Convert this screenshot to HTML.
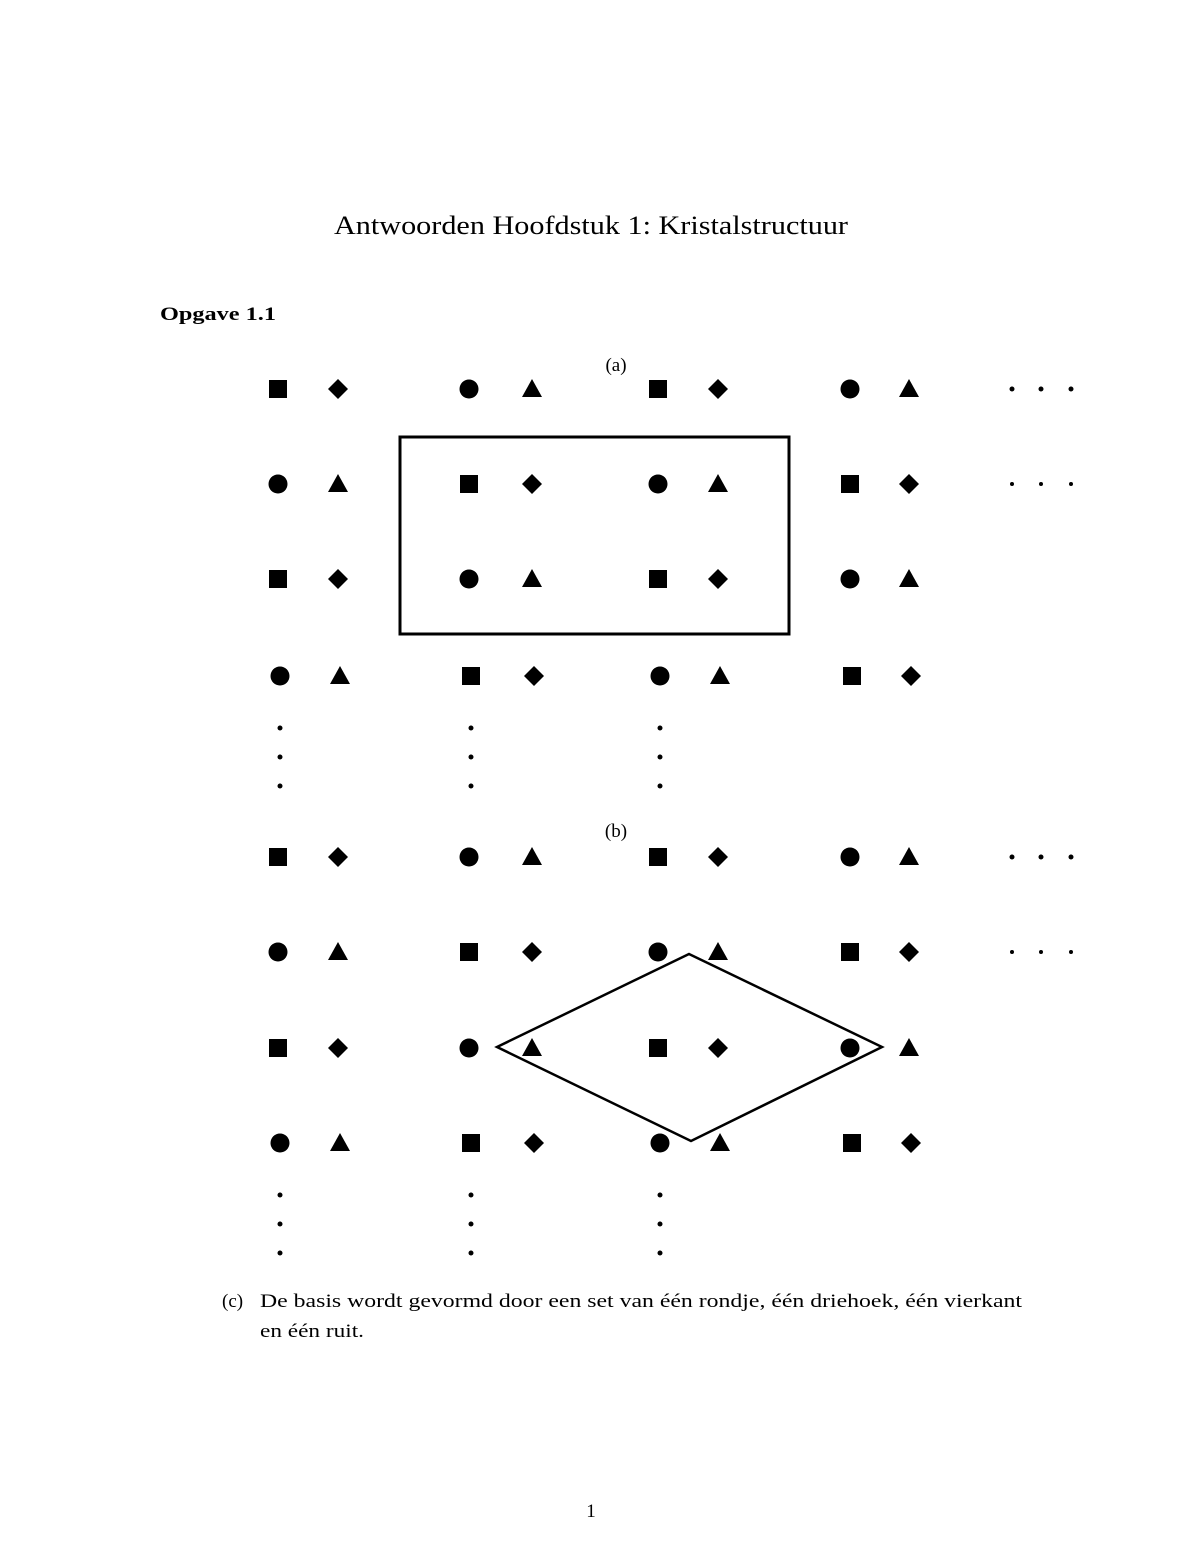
<!DOCTYPE html>
<html><head><meta charset="utf-8"><style>html,body{margin:0;padding:0;background:#fff}svg{display:block}</style></head>
<body>
<svg id="s" width="1200" height="1553" viewBox="0 0 1200 1553" xmlns="http://www.w3.org/2000/svg" font-family="Liberation Serif, serif" fill="#000">
<text x="591" y="234" font-size="26" text-anchor="middle" textLength="514" lengthAdjust="spacingAndGlyphs">Antwoorden Hoofdstuk 1: Kristalstructuur</text>
<text x="160" y="320" font-size="19" font-weight="bold" textLength="116" lengthAdjust="spacingAndGlyphs">Opgave 1.1</text>
<text x="616" y="371" font-size="19" text-anchor="middle">(a)</text>
<text x="616" y="837" font-size="19" text-anchor="middle">(b)</text>
<text x="222" y="1307" font-size="19">(c)</text>
<text x="260" y="1307" font-size="19" textLength="762" lengthAdjust="spacingAndGlyphs">De basis wordt gevormd door een set van één rondje, één driehoek, één vierkant</text>
<text x="260" y="1337" font-size="19" textLength="104" lengthAdjust="spacingAndGlyphs">en één ruit.</text>
<text x="591" y="1517" font-size="19" text-anchor="middle">1</text>
<rect x="400" y="437" width="389" height="197" fill="none" stroke="#000" stroke-width="3"/>
<polygon points="497,1047 689,954 882,1047 691,1141" fill="none" stroke="#000" stroke-width="2.5"/>
<g id="g"></g>
</svg>
<script>
var g=document.getElementById('g'),h='';
function sq(x,y){h+='<rect x="'+(x-9)+'" y="'+(y-9)+'" width="18" height="18"/>';}
function ci(x,y){h+='<circle cx="'+x+'" cy="'+y+'" r="9.5"/>';}
function di(x,y){h+='<polygon points="'+x+','+(y-10)+' '+(x+10)+','+y+' '+x+','+(y+10)+' '+(x-10)+','+y+'"/>';}
function tr(x,y){h+='<polygon points="'+x+','+(y-10)+' '+(x+10)+','+(y+8)+' '+(x-10)+','+(y+8)+'"/>';}
function dot(x,y,r){h+='<circle cx="'+x+'" cy="'+y+'" r="'+(r||2.5)+'"/>';}
var cols=[[278,338],[469,532],[658,718],[850,909]];
function block(ys,dy){
 for(var r=0;r<4;r++){
  var y=ys[r];
  for(var c=0;c<4;c++){
   var off=(r==3)?2:0;
   var a=cols[c][0]+off,b=cols[c][1]+off;
   if((r+c)%2==0){sq(a,y);di(b,y);}else{ci(a,y);tr(b,y);}
  }
 }
 [1012,1041,1071].forEach(function(x){dot(x,ys[0],2.5);dot(x,ys[1],2);});
 [280,471,660].forEach(function(x){dot(x,dy,2.5);dot(x,dy+29,2.5);dot(x,dy+58,2.5);});
}
block([389,484,579,676],728);
block([857,952,1048,1143],1195);
g.innerHTML=h;
</script>
</body></html>
